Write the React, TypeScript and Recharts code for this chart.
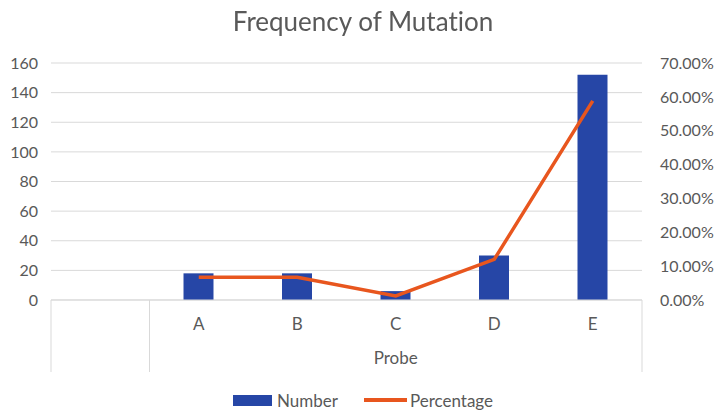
import {
  ComposedChart,
  Bar,
  Line,
  XAxis,
  YAxis,
  CartesianGrid,
  Legend,
} from "recharts";

const probes = ["", "A", "B", "C", "D", "E"];
const numbers = [null, 18, 18, 6, 30, 152];
const percentages = [null, 6.7, 6.7, 1.2, 12.0, 58.8];
const countTicks = [0, 20, 40, 60, 80, 100, 120, 140, 160];
const percentTicks = [0, 10, 20, 30, 40, 50, 60, 70];
const groupLabel = "Probe";

const WIDTH = 722;
const HEIGHT = 420;
const LEFT_AXIS_W = 51;
const RIGHT_AXIS_W = 80;
const BAND = (WIDTH - LEFT_AXIS_W - RIGHT_AXIS_W) / probes.length;

const FONT = "Lato, 'Open Sans', sans-serif";
const TEXT = "#595959";
const RULE = "#d9d9d9";
const BLUE = "#2646a6";
const ORANGE = "#e8561e";

const data = probes.map((probe, i) => ({
  probe,
  number: numbers[i],
  percentage: percentages[i],
}));

// two-level category axis: probe letters, group caption, boxed separators
function ProbeTick(props: any) {
  const { x, y, payload, index } = props;
  const half = BAND / 2;
  const last = probes.length - 1;
  const drop = 72;
  return (
    <g>
      {index === 0 && (
        <>
          <line x1={x - half} x2={x - half} y1={y} y2={y + drop} stroke={RULE} />
          <line x1={x + half} x2={x + half} y1={y} y2={y + drop} stroke={RULE} />
        </>
      )}
      {index === last && (
        <line x1={x + half} x2={x + half} y1={y} y2={y + drop} stroke={RULE} />
      )}
      <text
        x={x}
        y={y + 30}
        textAnchor="middle"
        fontFamily={FONT}
        fontSize={17}
        fill={TEXT}
      >
        {payload.value}
      </text>
      {index === 3 && (
        <text
          x={x}
          y={y + 64}
          textAnchor="middle"
          fontFamily={FONT}
          fontSize={17}
          fill={TEXT}
        >
          {groupLabel}
        </text>
      )}
    </g>
  );
}

function LegendContent() {
  return (
    <div
      style={{
        display: "flex",
        justifyContent: "center",
        alignItems: "center",
        height: 30,
        paddingLeft: 4,
        fontFamily: FONT,
        fontSize: 17,
        color: TEXT,
      }}
    >
      <span style={{ width: 39, height: 11, background: BLUE, marginRight: 5 }} />
      <span>Number</span>
      <span
        style={{
          width: 43,
          height: 4,
          background: ORANGE,
          marginLeft: 26,
          marginRight: 3,
        }}
      />
      <span>Percentage</span>
    </div>
  );
}

export default function App() {
  return (
    <div
      style={{
        position: "fixed",
        left: 0,
        top: 0,
        width: WIDTH,
        height: HEIGHT,
        background: "#fff",
        fontVariantLigatures: "none",
      }}
    >
      <div
        style={{
          position: "absolute",
          left: 2,
          top: 5,
          width: WIDTH,
          textAlign: "center",
          fontFamily: FONT,
          fontSize: 26,
          color: TEXT,
          fontVariantLigatures: "none",
          zIndex: 1,
        }}
      >
        Frequency of Mutation
      </div>
      <ComposedChart
        width={WIDTH}
        height={HEIGHT}
        data={data}
        margin={{ top: 63, right: 0, bottom: 0, left: 0 }}
      >
        <CartesianGrid yAxisId="left" vertical={false} stroke={RULE} />
        <XAxis
          dataKey="probe"
          interval={0}
          height={90}
          tickSize={0}
          tickMargin={0}
          tickLine={false}
          axisLine={{ stroke: RULE }}
          tick={<ProbeTick />}
        />
        <YAxis
          yAxisId="left"
          width={LEFT_AXIS_W}
          domain={[0, 160]}
          ticks={countTicks}
          axisLine={false}
          tickLine={false}
          tickMargin={7}
          tick={{ fontFamily: FONT, fontSize: 16, fill: TEXT }}
        />
        <YAxis
          yAxisId="right"
          orientation="right"
          width={RIGHT_AXIS_W}
          domain={[0, 70]}
          ticks={percentTicks}
          axisLine={false}
          tickLine={false}
          tickMargin={12}
          tickFormatter={(v: number) => `${v.toFixed(2)}%`}
          tick={{ fontFamily: FONT, fontSize: 16, fill: TEXT, textAnchor: "start" }}
        />
        <Legend
          verticalAlign="bottom"
          wrapperStyle={{ bottom: 5 }}
          content={<LegendContent />}
        />
        <Bar
          yAxisId="left"
          dataKey="number"
          name="Number"
          fill={BLUE}
          barSize={30}
          isAnimationActive={false}
        />
        <Line
          yAxisId="right"
          dataKey="percentage"
          name="Percentage"
          stroke={ORANGE}
          strokeWidth={3.5}
          dot={false}
          activeDot={false}
          isAnimationActive={false}
        />
      </ComposedChart>
    </div>
  );
}
